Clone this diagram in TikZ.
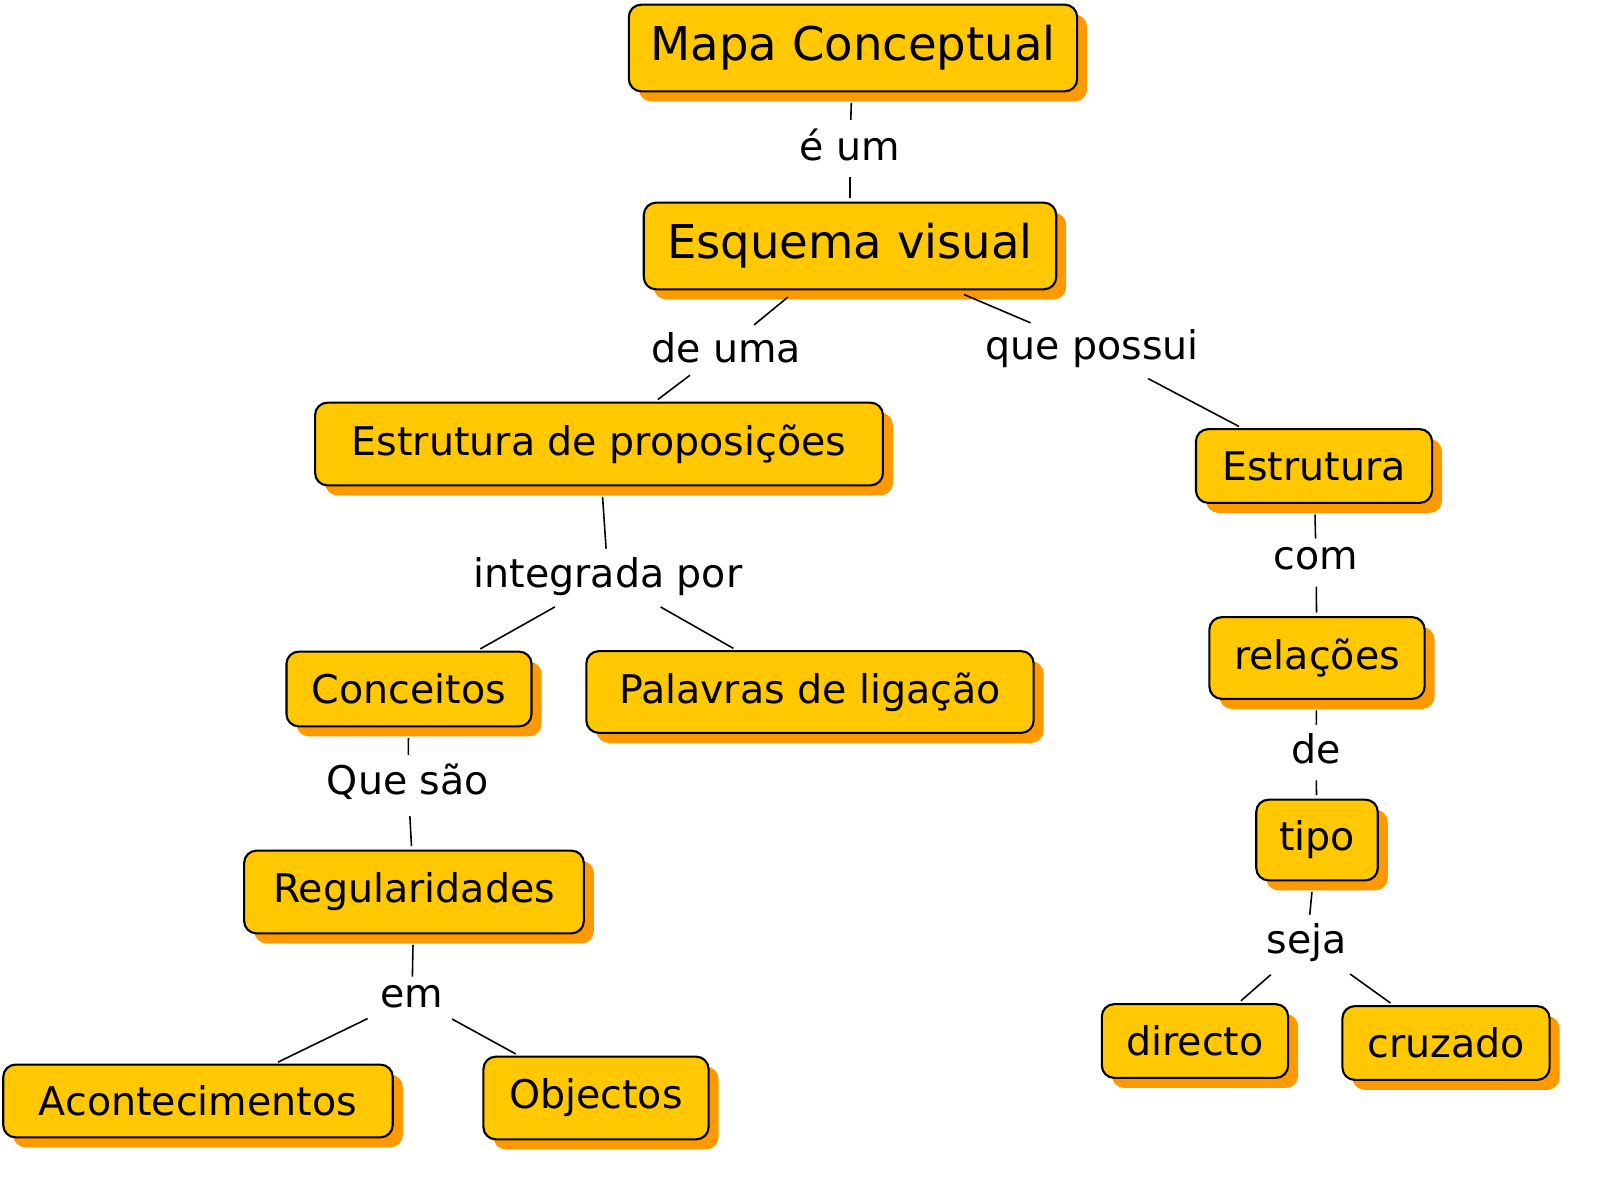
\documentclass[tikz,border=0pt]{standalone}
\usepackage{fontspec}
\setmainfont{DejaVu Sans}
\usetikzlibrary{shadows}
\definecolor{boxfill}{HTML}{FFC800}
\definecolor{shade}{HTML}{FF9900}
\tikzset{
 cbox/.style={draw=black,line width=1.2pt,fill=boxfill,rounded corners=7pt,
   copy shadow={fill=shade,draw=none,shadow xshift=5.7pt,shadow yshift=-5.7pt},
   font=\fontsize{22.5}{26}\selectfont,inner sep=0pt},
 big/.style={font=\fontsize{26.5}{30}\selectfont},
 lbl/.style={font=\fontsize{22.5}{26}\selectfont,inner sep=3pt},
 ln/.style={line width=0.9pt,shorten <=6pt,shorten >=2pt}
}
\begin{document}
\begin{tikzpicture}[x=0.02cm,y=-0.02cm]
\useasboundingbox (0,0) rectangle (1600,1178);
\node[cbox,big,minimum width=450*0.567pt,minimum height=87*0.567pt] (mc) at (853,48) {Mapa Conceptual};
\node[cbox,big,minimum width=414*0.567pt,minimum height=87*0.567pt] (ev) at (850,246) {Esquema visual};
\node[cbox,minimum width=570*0.567pt,minimum height=83*0.567pt] (ep) at (599,444) {Estrutura de proposições};
\node[cbox,minimum width=237*0.567pt,minimum height=74*0.567pt] (es) at (1314,466) {Estrutura};
\node[cbox,minimum width=246*0.567pt,minimum height=75*0.567pt] (co) at (409,689) {Conceitos};
\node[cbox,minimum width=449*0.567pt,minimum height=82*0.567pt] (pl) at (810,692) {Palavras de ligação};
\node[cbox,minimum width=216*0.567pt,minimum height=82*0.567pt] (re) at (1317,658) {relações};
\node[cbox,minimum width=122*0.567pt,minimum height=81*0.567pt] (ti) at (1317,840) {tipo};
\node[cbox,minimum width=341*0.567pt,minimum height=83*0.567pt] (rg) at (414,892) {Regularidades};
\node[cbox,minimum width=187*0.567pt,minimum height=74*0.567pt] (di) at (1195,1041) {directo};
\node[cbox,minimum width=208*0.567pt,minimum height=74*0.567pt] (cr) at (1446,1043) {cruzado};
\node[cbox,minimum width=391*0.567pt,minimum height=73*0.567pt] (ac) at (198,1101) {Acontecimentos};
\node[cbox,minimum width=226*0.567pt,minimum height=83*0.567pt] (ob) at (596,1098) {Objectos};

\node[lbl] (l1) at (850,145) {é um};
\node[lbl] (l2) at (726,348) {de uma};
\node[lbl] (l3) at (1092,349) {que possui};
\node[lbl] (l4) at (608,577) {integrada por};
\node[lbl] (l5) at (1316,559) {com};
\node[lbl] (l6) at (1316,749) {de};
\node[lbl] (l7) at (408,782) {Que são};
\node[lbl] (l8) at (1307,943) {seja};
\node[lbl] (l9) at (412,997) {em};

\draw[ln] (mc) -- (l1); \draw[ln] (l1) -- (ev);
\draw[ln] (ev) -- (l2); \draw[ln] (l2) -- (ep);
\draw[ln] (ev) -- (l3); \draw[ln] (l3) -- (es);
\draw[ln] (ep) -- (l4); \draw[ln] (l4) -- (co); \draw[ln] (l4) -- (pl);
\draw[ln] (es) -- (l5); \draw[ln] (l5) -- (re);
\draw[ln] (re) -- (l6); \draw[ln] (l6) -- (ti);
\draw[ln] (ti) -- (l8); \draw[ln] (l8) -- (di); \draw[ln] (l8) -- (cr);
\draw[ln] (co) -- (l7); \draw[ln] (l7) -- (rg);
\draw[ln] (rg) -- (l9); \draw[ln] (l9) -- (ac); \draw[ln] (l9) -- (ob);
\end{tikzpicture}
\end{document}
